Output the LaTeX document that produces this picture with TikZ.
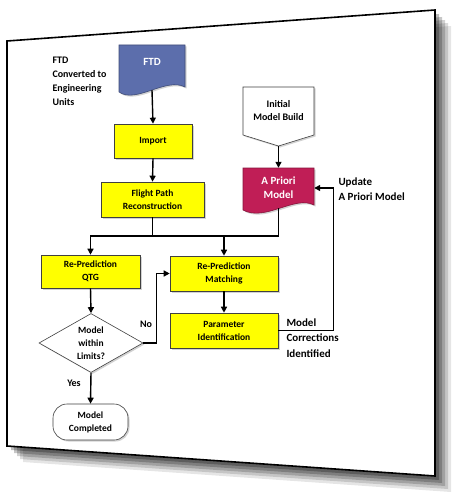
\documentclass[tikz,border=0pt]{standalone}
\usepackage{fontspec}
\setmainfont{Carlito}
\usetikzlibrary{arrows.meta,shapes.geometric,shadows}
\definecolor{ftdblue}{RGB}{92,110,172}
\definecolor{priorred}{RGB}{192,30,86}
\definecolor{boxyellow}{RGB}{255,255,0}
\tikzset{
	boxshadow/.style={drop shadow={shadow xshift=1.5pt, shadow yshift=-1.5pt, opacity=0.35}},
	stepbox/.style={draw=black!75, line width=0.6pt, fill=boxyellow, align=center,
		font=\bfseries\fontsize{9.5}{13}\selectfont, boxshadow},
	docbox/.style={align=center, text=white, font=\bfseries\fontsize{11}{14}\selectfont},
	flow/.style={line width=1.4pt, -{Triangle[length=6pt,width=6pt]}},
	note/.style={anchor=north west, align=left}
}
\begin{document}
\begin{tikzpicture}[x=1pt, y=-1pt]
		\useasboundingbox (0,0) rectangle (459,500);
		% Blatt mit Schatten
		\foreach \d/\o in {16/0.10, 13/0.14, 10/0.18, 7/0.22, 4/0.26} {
			\fill[black, opacity=\o] (7+\d,41+\d) -- (435+\d,10+\d) -- (435+\d,476+\d) -- (7+\d,446+\d) -- cycle;
		}
		\filldraw[fill=white, draw=black, line width=1.6pt] (7,41) -- (435,10) -- (435,476) -- (7,446) -- cycle;
		% Dokumente
		\node[docbox, minimum width=66pt, minimum height=45pt] (ftd) at (152,67.5) {};
		\filldraw[fill=ftdblue, draw=ftdblue!70!black, line width=0.6pt, boxshadow] (119,45) -- (185,45) -- (185,87)
			.. controls (166,77) and (136,104) .. (119,92) -- cycle;
		\node[docbox] at (152,62) {FTD};
		\node[minimum width=71pt, minimum height=40pt] (prior) at (278.5,188) {};
		\filldraw[fill=priorred, draw=priorred!70!black, line width=0.6pt, boxshadow] (243,168) -- (314,168) -- (314,205)
			.. controls (295,195) and (265,222) .. (243,210) -- cycle;
		\node[docbox] at (278.5,188) {A Priori\\Model};
		% Anfang
		\node[minimum width=71pt, minimum height=48pt, align=center,
			font=\bfseries\fontsize{9.5}{13}\selectfont] (init) at (278.5,111) {};
		\filldraw[fill=white, draw=black!75, line width=0.6pt, boxshadow] (243,87) -- (314,87) -- (314,135) -- (278.5,146) -- (243,135) -- cycle;
		\node[align=center, font=\bfseries\fontsize{10}{13}\selectfont] at (278.5,111) {Initial\\Model Build};
		\coordinate (inittip) at (278.5,146);
		% Schritte
		\node[stepbox, minimum width=78pt, minimum height=34pt] (import) at (153,141) {Import};
		\node[stepbox, minimum width=103pt, minimum height=35pt] (flight) at (152.5,199.5) {Flight Path\\Reconstruction};
		\node[stepbox, minimum width=99pt, minimum height=33pt] (qtg) at (90.5,271.5) {Re-Prediction\\QTG};
		\node[stepbox, minimum width=108pt, minimum height=35pt] (match) at (224,273.5) {Re-Prediction\\Matching};
		\node[stepbox, minimum width=108pt, minimum height=35pt] (param) at (224,330.5) {Parameter\\Identification};
		\node[diamond, draw=black!75, line width=0.6pt, fill=white, inner sep=0pt, aspect=1.8,
			minimum width=104pt, minimum height=59pt, align=center,
			font=\bfseries\fontsize{9.5}{13}\selectfont, boxshadow] (check) at (91,343) {Model\\within\\Limits?};
		\node[draw=black!75, line width=0.6pt, fill=white, rounded corners=14pt, align=center,
			minimum width=75pt, minimum height=36pt,
			font=\bfseries\fontsize{9.5}{13}\selectfont, boxshadow] (done) at (90.5,422) {Model\\Completed};
		% Verbindungen
		\coordinate (join) at (152.5,236);
		\draw[flow] (ftd.south) -- (import.north);
		\draw[flow] (import.south) -- (flight.north);
		\draw[flow] (inittip) -- (prior.north);
		\draw[flow] (flight.south) -- (join) -| (qtg.north);
		\draw[flow] (prior.south) |- (join) (match.north |- join) -- (match.north);
		\draw[flow] (match.south) -- (param.north);
		\draw[flow] (qtg.south) -- (check.north);
		\draw[flow] (check.east) -- ++(13,0) |- (match.west);
		\draw[flow] (check.south) -- (done.north);
		\draw[flow] (param.east) -- ++(55,0) |- (prior.east);
		% Beschriftungen
		\node[font=\bfseries\fontsize{10}{13}\selectfont] (no) at (146,324) {No};
		\node[font=\bfseries\fontsize{10}{13}\selectfont] (yes) at (74,383) {Yes};
		\node[note, font=\bfseries\fontsize{10}{14}\selectfont] (ftdnote) at (49,53) {FTD\\Converted to\\Engineering\\Units};
		\node[note, font=\bfseries\fontsize{11}{15}\selectfont] (update) at (335,174) {Update\\A Priori Model};
		\node[note, font=\bfseries\fontsize{11}{15.5}\selectfont] (corr) at (283,315) {Model\\Corrections\\Identified};
	\end{tikzpicture}
\end{document}
